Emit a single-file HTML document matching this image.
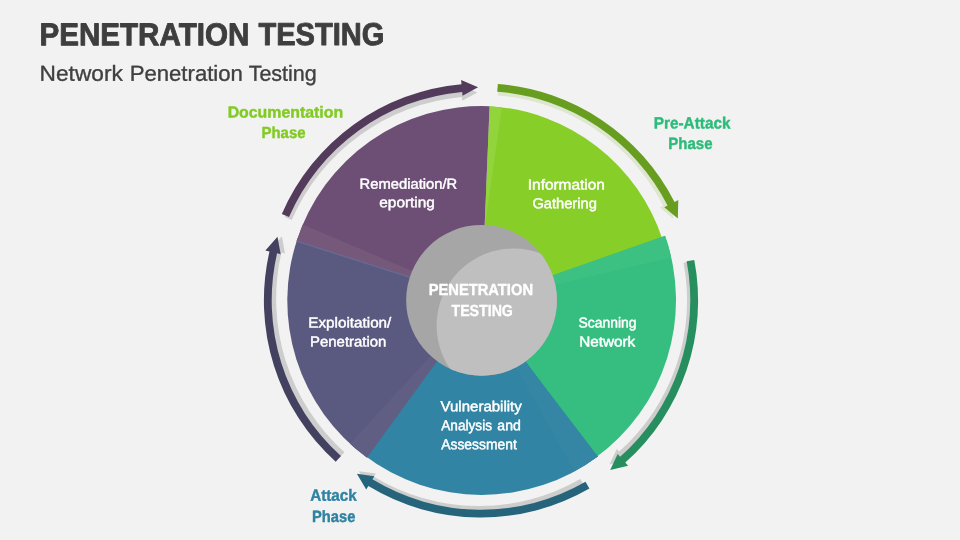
<!DOCTYPE html>
<html lang="en">
<head>
<meta charset="utf-8">
<title>Penetration Testing</title>
<style>
html,body{margin:0;padding:0;background:#f2f2f2;}
body{width:960px;height:540px;overflow:hidden;font-family:"Liberation Sans",sans-serif;}
svg{display:block;will-change:transform;}
</style>
</head>
<body>
<svg width="960" height="540" viewBox="0 0 960 540">
<rect width="960" height="540" fill="#f2f2f2"/>
<defs>
<clipPath id="cp-green"><path d="M481.6,300.2 L489.6,106.15 A194.2 194.2 0 0 1 662.74,240.12 Z"/></clipPath>
<clipPath id="cp-teal"><path d="M481.6,300.2 L665.02,235.79 A194.4 194.4 0 0 1 595.18,457.97 Z"/></clipPath>
<clipPath id="cp-blue"><path d="M481.6,300.2 L598.17,456.3 A194.4 194.4 0 0 1 364.57,455.5 Z"/></clipPath>
<clipPath id="cp-indigo"><path d="M481.6,300.2 L367.16,457.72 A194.3 194.3 0 0 1 297.71,237.96 Z"/></clipPath>
<clipPath id="cp-purple"><path d="M481.6,300.2 L296.59,241.16 A194.2 194.2 0 0 1 489.6,106.16 Z"/></clipPath>
<clipPath id="cp-disk"><circle cx="481.55" cy="300.3" r="75.4"/></clipPath>
</defs>
<path d="M481.6,300.2 L489.6,106.15 A194.2 194.2 0 0 1 662.74,240.12 Z" fill="#88ce28"/>
<path d="M481.6,300.2 L296.59,241.16 A194.2 194.2 0 0 1 489.6,106.16 Z" fill="#6d4f76"/>
<path d="M481.6,300.2 L367.16,457.72 A194.3 194.3 0 0 1 297.71,237.96 Z" fill="#5a5980"/>
<path d="M481.6,300.2 L598.17,456.3 A194.4 194.4 0 0 1 364.57,455.5 Z" fill="#3184a3"/>
<path d="M481.6,300.2 L665.02,235.79 A194.4 194.4 0 0 1 595.18,457.97 Z" fill="#35be80"/>
<path d="M484.6,228 L489.6,103 L502.3,104 Z" fill="#92d43c" clip-path="url(#cp-green)"/>
<path d="M481.6,300.2 L276.78,234.83 L283.55,216.54 Z" fill="#76597a" clip-path="url(#cp-purple)"/>
<path d="M481.6,300.2 L355.23,474.14 L336.35,458.71 Z" fill="#615e83" clip-path="url(#cp-indigo)"/>
<path d="M478.5,300.2 L610.24,472.47 L583.32,487.91 Z" fill="#3486a4" clip-path="url(#cp-blue)"/>
<path d="M465.3,305.9 L684.46,228.96 L691.26,252.57 Z" fill="#3dc183" clip-path="url(#cp-teal)"/>
<path d="M481.6,300.2 L294.88,240.61" stroke="#676a92" stroke-width="1.4" fill="none" clip-path="url(#cp-indigo)"/>
<circle cx="481.55" cy="300.3" r="75.4" fill="#a6a6a6"/>
<circle cx="513.6" cy="325.5" r="77" fill="#bfbfbf" clip-path="url(#cp-disk)"/>
<path d="M281.83,214.01 A217.1 217.1 0 0 1 461.51,84.18 L461.14,79.99 L478.02,87.22 L462.54,95.63 L462.21,91.94 A209.3 209.3 0 0 0 288.99,217.11 Z" fill="#cdcdcd" transform="matrix(0.9826 0 0 0.9826 7.71 6.7)"/>
<path d="M281.83,214.01 A217.1 217.1 0 0 1 461.51,84.18 L461.14,79.99 L478.02,87.22 L462.54,95.63 L462.21,91.94 A209.3 209.3 0 0 0 288.99,217.11 Z" fill="#533b5b"/>
<path d="M497.84,83.95 A217.1 217.1 0 0 1 674.52,202.01 L678.27,200.1 L677.83,218.47 L664.27,207.22 L667.57,205.54 A209.3 209.3 0 0 0 497.24,91.73 Z" fill="#dde6cf" transform="matrix(0.9704 0 0 0.9704 15.3 6.41)"/>
<path d="M497.84,83.95 A217.1 217.1 0 0 1 674.52,202.01 L678.27,200.1 L677.83,218.47 L664.27,207.22 L667.57,205.54 A209.3 209.3 0 0 0 497.24,91.73 Z" fill="#689e1f"/>
<path d="M694.29,259.91 A217.1 217.1 0 0 1 625.28,462.62 L628.07,465.76 L610.2,469.99 L617.64,454.03 L620.1,456.79 A209.3 209.3 0 0 0 686.63,261.36 Z" fill="#cdcdcd" transform="matrix(0.9666 0 0 0.9666 19.82 10.06)"/>
<path d="M694.29,259.91 A217.1 217.1 0 0 1 625.28,462.62 L628.07,465.76 L610.2,469.99 L617.64,454.03 L620.1,456.79 A209.3 209.3 0 0 0 686.63,261.36 Z" fill="#278f5f"/>
<path d="M589.39,488.51 A217.1 217.1 0 0 1 368.37,486 L366.2,489.59 L356.89,473.75 L374.34,476.17 L372.42,479.33 A209.3 209.3 0 0 0 585.49,481.75 Z" fill="#cdcdcd" transform="matrix(0.9683 0 0 0.9683 13.34 12.51)"/>
<path d="M589.39,488.51 A217.1 217.1 0 0 1 368.37,486 L366.2,489.59 L356.89,473.75 L374.34,476.17 L372.42,479.33 A209.3 209.3 0 0 0 585.49,481.75 Z" fill="#25647b"/>
<path d="M335.73,461.74 A217.1 217.1 0 0 1 269.46,251.56 L265.37,250.62 L277.5,236.82 L280.67,254.15 L277.06,253.32 A209.3 209.3 0 0 0 340.95,455.94 Z" fill="#cdcdcd" transform="matrix(0.9856 0 0 0.9856 8.37 2.89)"/>
<path d="M335.73,461.74 A217.1 217.1 0 0 1 269.46,251.56 L265.37,250.62 L277.5,236.82 L280.67,254.15 L277.06,253.32 A209.3 209.3 0 0 0 340.95,455.94 Z" fill="#434160"/>
<text transform="translate(39.48 45.15) rotate(0.03)" font-size="31.69" font-family="'Liberation Sans', sans-serif" fill="#3e3e3e" font-weight="bold" stroke="#3e3e3e" stroke-width="0.9" stroke-linejoin="round" textLength="209.85" lengthAdjust="spacingAndGlyphs">PENETRATION</text>
<text transform="translate(258.41 45.15) rotate(0.03)" font-size="31.69" font-family="'Liberation Sans', sans-serif" fill="#3e3e3e" font-weight="bold" stroke="#3e3e3e" stroke-width="0.9" stroke-linejoin="round" textLength="125.93" lengthAdjust="spacingAndGlyphs">TESTING</text>
<text transform="translate(39.6 80.73) rotate(0.03)" font-size="21.73" font-family="'Liberation Sans', sans-serif" fill="#404040" stroke="#404040" stroke-width="0.35" stroke-linejoin="round" textLength="83.17" lengthAdjust="spacingAndGlyphs">Network</text>
<text transform="translate(129.64 80.73) rotate(0.03)" font-size="21.73" font-family="'Liberation Sans', sans-serif" fill="#404040" stroke="#404040" stroke-width="0.35" stroke-linejoin="round" textLength="113.3" lengthAdjust="spacingAndGlyphs">Penetration</text>
<text transform="translate(248.63 80.73) rotate(0.03)" font-size="21.73" font-family="'Liberation Sans', sans-serif" fill="#404040" stroke="#404040" stroke-width="0.35" stroke-linejoin="round" textLength="68.16" lengthAdjust="spacingAndGlyphs">Testing</text>
<text transform="translate(227.63 117.5) rotate(0.03)" font-size="15.99" font-family="'Liberation Sans', sans-serif" fill="#81cb22" font-weight="bold" stroke="#81cb22" stroke-width="0.4" stroke-linejoin="round" textLength="115.51" lengthAdjust="spacingAndGlyphs">Documentation</text>
<text transform="translate(261.59 138.4) rotate(0.03)" font-size="15.99" font-family="'Liberation Sans', sans-serif" fill="#81cb22" font-weight="bold" stroke="#81cb22" stroke-width="0.4" stroke-linejoin="round" textLength="43.85" lengthAdjust="spacingAndGlyphs">Phase</text>
<text transform="translate(653.78 128.5) rotate(0.03)" font-size="16.28" font-family="'Liberation Sans', sans-serif" fill="#2cbc7a" font-weight="bold" stroke="#2cbc7a" stroke-width="0.4" stroke-linejoin="round" textLength="76.69" lengthAdjust="spacingAndGlyphs">Pre-Attack</text>
<text transform="translate(668.29 149.4) rotate(0.03)" font-size="16.28" font-family="'Liberation Sans', sans-serif" fill="#2cbc7a" font-weight="bold" stroke="#2cbc7a" stroke-width="0.4" stroke-linejoin="round" textLength="44.19" lengthAdjust="spacingAndGlyphs">Phase</text>
<text transform="translate(310.17 500.7) rotate(0.03)" font-size="16.28" font-family="'Liberation Sans', sans-serif" fill="#2e82a2" font-weight="bold" stroke="#2e82a2" stroke-width="0.4" stroke-linejoin="round" textLength="46.47" lengthAdjust="spacingAndGlyphs">Attack</text>
<text transform="translate(312.01 521.6) rotate(0.03)" font-size="16.28" font-family="'Liberation Sans', sans-serif" fill="#2e82a2" font-weight="bold" stroke="#2e82a2" stroke-width="0.4" stroke-linejoin="round" textLength="43.37" lengthAdjust="spacingAndGlyphs">Phase</text>
<text transform="translate(359.58 188.68) rotate(0.03)" font-size="14.46" font-family="'Liberation Sans', sans-serif" fill="#ffffff" stroke="#ffffff" stroke-width="0.45" stroke-linejoin="round" textLength="97.62" lengthAdjust="spacingAndGlyphs">Remediation/R</text>
<text transform="translate(379.3 207.28) rotate(0.03)" font-size="14.46" font-family="'Liberation Sans', sans-serif" fill="#ffffff" stroke="#ffffff" stroke-width="0.45" stroke-linejoin="round" textLength="55.58" lengthAdjust="spacingAndGlyphs">eporting</text>
<text transform="translate(527.8 189.38) rotate(0.03)" font-size="14.46" font-family="'Liberation Sans', sans-serif" fill="#ffffff" stroke="#ffffff" stroke-width="0.45" stroke-linejoin="round" textLength="77.03" lengthAdjust="spacingAndGlyphs">Information</text>
<text transform="translate(532.39 208.18) rotate(0.03)" font-size="14.46" font-family="'Liberation Sans', sans-serif" fill="#ffffff" stroke="#ffffff" stroke-width="0.45" stroke-linejoin="round" textLength="64.45" lengthAdjust="spacingAndGlyphs">Gathering</text>
<text transform="translate(578.42 327.47) rotate(0.03)" font-size="14.46" font-family="'Liberation Sans', sans-serif" fill="#ffffff" stroke="#ffffff" stroke-width="0.45" stroke-linejoin="round" textLength="58.14" lengthAdjust="spacingAndGlyphs">Scanning</text>
<text transform="translate(579.14 346.47) rotate(0.03)" font-size="14.46" font-family="'Liberation Sans', sans-serif" fill="#ffffff" stroke="#ffffff" stroke-width="0.45" stroke-linejoin="round" textLength="56.11" lengthAdjust="spacingAndGlyphs">Network</text>
<text transform="translate(440.53 411.17) rotate(0.03)" font-size="14.46" font-family="'Liberation Sans', sans-serif" fill="#ffffff" stroke="#ffffff" stroke-width="0.45" stroke-linejoin="round" textLength="81.29" lengthAdjust="spacingAndGlyphs">Vulnerability</text>
<text transform="translate(441.22 430.17) rotate(0.03)" font-size="14.46" font-family="'Liberation Sans', sans-serif" fill="#ffffff" stroke="#ffffff" stroke-width="0.45" stroke-linejoin="round" textLength="50.79" lengthAdjust="spacingAndGlyphs">Analysis</text>
<text transform="translate(497.33 430.17) rotate(0.03)" font-size="14.46" font-family="'Liberation Sans', sans-serif" fill="#ffffff" stroke="#ffffff" stroke-width="0.45" stroke-linejoin="round" textLength="23.5" lengthAdjust="spacingAndGlyphs">and</text>
<text transform="translate(441.22 449.27) rotate(0.03)" font-size="14.46" font-family="'Liberation Sans', sans-serif" fill="#ffffff" stroke="#ffffff" stroke-width="0.45" stroke-linejoin="round" textLength="75.53" lengthAdjust="spacingAndGlyphs">Assessment</text>
<text transform="translate(308.35 327.47) rotate(0.03)" font-size="14.46" font-family="'Liberation Sans', sans-serif" fill="#ffffff" stroke="#ffffff" stroke-width="0.45" stroke-linejoin="round" textLength="82.99" lengthAdjust="spacingAndGlyphs">Exploitation/</text>
<text transform="translate(310.07 346.47) rotate(0.03)" font-size="14.46" font-family="'Liberation Sans', sans-serif" fill="#ffffff" stroke="#ffffff" stroke-width="0.45" stroke-linejoin="round" textLength="76.34" lengthAdjust="spacingAndGlyphs">Penetration</text>
<text transform="translate(428.69 295.4) rotate(0.03)" font-size="15.99" font-family="'Liberation Sans', sans-serif" fill="#ffffff" font-weight="bold" stroke="#ffffff" stroke-width="0.4" stroke-linejoin="round" textLength="104.31" lengthAdjust="spacingAndGlyphs">PENETRATION</text>
<text transform="translate(451.5 316.1) rotate(0.03)" font-size="15.99" font-family="'Liberation Sans', sans-serif" fill="#ffffff" font-weight="bold" stroke="#ffffff" stroke-width="0.4" stroke-linejoin="round" textLength="61.39" lengthAdjust="spacingAndGlyphs">TESTING</text>
</svg>
</body>
</html>
